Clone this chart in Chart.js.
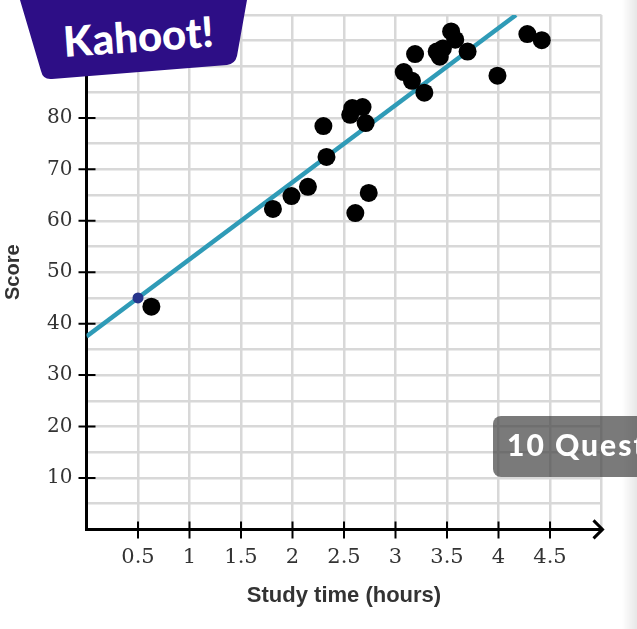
<!DOCTYPE html>
<html>
<head>
<meta charset="utf-8">
<script src="https://cdn.jsdelivr.net/npm/chart.js@4.4.0/dist/chart.umd.min.js"></script>
<style>
  html, body { margin: 0; padding: 0; background: #fff; overflow: hidden; }
  #wrap { position: relative; width: 637px; height: 629px; }
  #kahoot {
    position: absolute; left: 0; top: 0; width: 260px; height: 82px;
    background: #2d0e86;
    clip-path: path('M20 0 L247 0 L237 56 Q235 64 227 65 L52 79 Q43 80 41 71 Z');
  }
  #kahoot span {
    position: absolute; left: 65px; top: 16px;
    color: #fff; font: 900 42px Lato, sans-serif; letter-spacing: 0px;
    transform: rotate(-4deg); transform-origin: left bottom;
  }
  #badge {
    position: absolute; left: 493px; top: 416px; width: 170px; height: 61px;
    border-radius: 8px; background: rgba(70, 70, 70, 0.72); overflow: hidden;
  }
  #badge span {
    position: absolute; left: 14px; top: 10px; white-space: nowrap;
    color: #fff; font: 900 30px Lato, sans-serif; letter-spacing: 2px;
  }
  #edge {
    position: absolute; left: 622px; top: 0; width: 15px; height: 629px;
    background: linear-gradient(to right, rgba(235,235,235,0), rgba(225,225,225,0.8));
  }
</style>
</head>
<body>
<div id="wrap">
  <canvas id="myChart" width="637" height="629"></canvas>
  <div id="edge"></div>
  <div id="kahoot"><span>Kahoot!</span></div>
  <div id="badge"><span>10 Questions</span></div>
</div>
<script>
//DATA
var studyHours = [0.63, 1.81, 1.99, 2.15, 2.30, 2.33, 2.58, 2.56, 2.68, 2.71, 2.61, 2.74,
                  3.08, 3.16, 3.19, 3.28, 3.40, 3.46, 3.43, 3.54, 3.58, 3.70, 3.99, 4.28, 4.42];
var scores = [43.3, 62.3, 64.8, 66.6, 78.4, 72.4, 81.9, 80.6, 82.1, 79.0, 61.5, 65.4,
              88.9, 87.2, 92.4, 84.9, 92.9, 93.5, 91.9, 96.8, 95.2, 92.9, 88.2, 96.3, 95.1];

//fit line
var lineX = [0, 4.17];
var lineY = [37.5, 100];

//handle dot on the line
var handleX = [0.5];
var handleY = [45];

var xTickLabels = [0.5, 1, 1.5, 2, 2.5, 3, 3.5, 4, 4.5];
var yTickLabels = [10, 20, 30, 40, 50, 60, 70, 80, 90];

function toPoints(xs, ys){
  return xs.map(function(x, i){ return {x: x, y: ys[i]}; });
}

//axes, tick marks and arrow
var axisPlugin = {
  id: 'axisPlugin',
  beforeDatasetsDraw: function(chart){
    var ctx = chart.ctx, xs = chart.scales.x, ys = chart.scales.y;
    var x0 = xs.getPixelForValue(0), y0 = ys.getPixelForValue(0);
    var right = xs.getPixelForValue(5) + 1;
    ctx.save();
    ctx.strokeStyle = '#000';
    ctx.lineWidth = 3;
    ctx.lineCap = 'butt';
    ctx.beginPath();
    ctx.moveTo(x0 - 1.5, y0);
    ctx.lineTo(right, y0);
    ctx.moveTo(x0, y0 + 1.5);
    ctx.lineTo(x0, 0);
    ctx.stroke();
    //tick marks
    ctx.lineWidth = 2;
    ctx.beginPath();
    xTickLabels.forEach(function(v){
      var px = xs.getPixelForValue(v);
      ctx.moveTo(px, y0 - 8);
      ctx.lineTo(px, y0 + 9);
    });
    yTickLabels.forEach(function(v){
      var py = ys.getPixelForValue(v);
      ctx.moveTo(x0 - 8, py);
      ctx.lineTo(x0 + 9, py);
    });
    ctx.stroke();
    //arrow head
    ctx.lineWidth = 3;
    ctx.lineJoin = 'miter';
    ctx.beginPath();
    ctx.moveTo(right - 9, y0 - 9);
    ctx.lineTo(right, y0);
    ctx.lineTo(right - 9, y0 + 9);
    ctx.stroke();
    ctx.restore();
  }
};

var ctx = document.getElementById('myChart').getContext('2d');
var myChart = new Chart(ctx, {
  type: 'scatter',
  data: {
    datasets: [{
      type: 'line',
      data: toPoints(lineX, lineY),
      borderColor: '#2f9bb7',
      borderWidth: 4.5,
      pointRadius: 0,
      clip: 0,
      order: 2
    }, {
      data: toPoints(studyHours, scores),
      backgroundColor: '#000',
      borderWidth: 0,
      pointRadius: 9,
      order: 1
    }, {
      data: toPoints(handleX, handleY),
      backgroundColor: '#27348b',
      borderWidth: 0,
      pointRadius: 5.5,
      order: 0
    }]
  },
  options: {
    responsive: false,
    animation: false,
    layout: { padding: { top: 15, right: 35.5, left: 0, bottom: 0 } },
    plugins: { legend: { display: false }, tooltip: { enabled: false } },
    scales: {
      x: {
        type: 'linear', min: 0, max: 5,
        afterFit: function(s){ s.height = 99.6; s.paddingLeft = 0; s.paddingRight = 0; },
        border: { display: false },
        grid: { color: '#d8d8d8', lineWidth: 2.5, drawTicks: false },
        ticks: {
          stepSize: 0.5, padding: 16, color: '#333', maxRotation: 0, autoSkip: false,
          font: { family: 'DejaVu Serif', size: 21 },
          callback: function(v){ return xTickLabels.indexOf(v) > -1 ? String(v) : ''; }
        },
        title: {
          display: true, text: 'Study time (hours)', color: '#333',
          font: { family: 'Liberation Sans', weight: 'bold', size: 22 },
          padding: { top: 0, bottom: 20 }
        }
      },
      y: {
        type: 'linear', min: 0, max: 100,
        afterFit: function(s){ s.width = 86.5; s.paddingTop = 0; s.paddingBottom = 0; },
        border: { display: false },
        grid: { color: '#d8d8d8', lineWidth: 2.5, drawTicks: false },
        ticks: {
          stepSize: 5, padding: 14, color: '#333', autoSkip: false,
          font: { family: 'DejaVu Serif', size: 20 },
          callback: function(v){ return yTickLabels.indexOf(v) > -1 ? String(v) : ''; }
        },
        title: {
          display: true, text: 'Score', color: '#333',
          font: { family: 'Liberation Sans', weight: 'bold', size: 20 },
          padding: { top: 1, bottom: 0 }
        }
      }
    }
  },
  plugins: [axisPlugin]
});
</script>
</body>
</html>
